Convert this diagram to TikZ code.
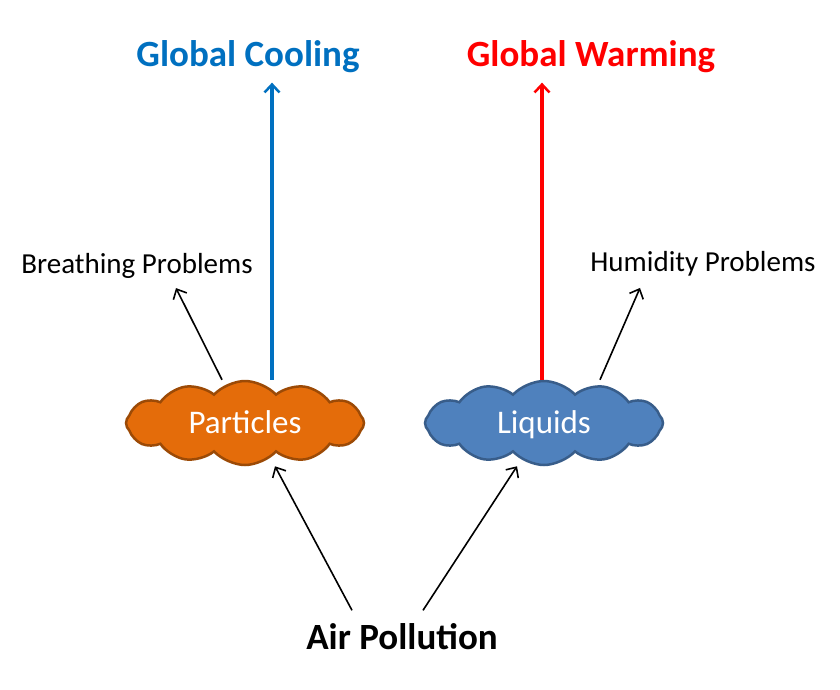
\documentclass[tikz,border=0pt]{standalone}
\usepackage{fontspec}
\setmainfont{Carlito}
\usetikzlibrary{arrows.meta,shapes.symbols}
\definecolor{coolblue}{HTML}{0070C0}
\definecolor{warmred}{HTML}{FF0000}
\definecolor{partfill}{HTML}{E46C0A}
\definecolor{partdraw}{HTML}{9C4A06}
\definecolor{liqfill}{HTML}{4F81BD}
\definecolor{liqdraw}{HTML}{385D8A}
\tikzstyle{puff}=[cloud,cloud puffs=12,cloud puff arc=95,aspect=2.8,minimum width=238pt,minimum height=84pt,inner sep=0pt,line width=2.5pt,text=white,text height=0.64em,text depth=0pt,font=\fontsize{33}{33}\selectfont]
\tikzstyle{heading}=[font=\bfseries\fontsize{37}{37}\selectfont]
\tikzstyle{effect}=[font=\fontsize{29}{29}\selectfont]
\tikzstyle{edge}=[draw,line width=1.6pt,-{Straight Barb[length=8pt,width=15pt,line width=1.6pt]}]
\tikzstyle{climate}=[draw,line width=3.5pt,-{Straight Barb[length=8pt,width=15pt,line width=2.5pt]}]

\begin{document}
\begin{tikzpicture}[x=1pt,y=-1pt]
    \fill[white] (0,0) rectangle (840,689);
    % First we draw the clouds
    \foreach \pos/ \name/ \txt/ \fc/ \dc in {{(245,423)/particles/Particles/partfill/partdraw},{(544,423)/liquids/Liquids/liqfill/liqdraw}}
        \node[puff,fill=\fc,draw=\dc] (\name) at \pos {\raisebox{-7pt}{\txt}};

    % Then the texts round them
    \node[heading,text=coolblue] (cooling) at (248,57) {Global Cooling};
    \node[heading,text=warmred] (warming) at (591,57) {Global Warming};
    \node[effect] (breathing) at (137,266) {Breathing Problems};
    \node[effect] (humidity) at (703,264) {Humidity Problems};
    \node[heading] (pollution) at (402,637) {Air Pollution};

    % Connect them with arrows
    \path[climate,coolblue] ([xshift=27pt]particles.north) -- ([xshift=24pt,yshift=-6pt]cooling.south);
    \path[climate,warmred] ([xshift=-2pt]liquids.north) -- ([xshift=-49pt,yshift=-6pt]warming.south);
    \path[edge] ([xshift=-23pt]particles.north) -- ([xshift=39pt,yshift=-6pt]breathing.south);
    \path[edge] ([xshift=56pt]liquids.north) -- ([xshift=-63pt,yshift=-8pt]humidity.south);
    \path[edge] ([xshift=-50pt,yshift=10pt]pollution.north) -- ([xshift=30pt]particles.south);
    \path[edge] ([xshift=21pt,yshift=10pt]pollution.north) -- ([xshift=-27pt]liquids.south);
\end{tikzpicture}
\end{document}
